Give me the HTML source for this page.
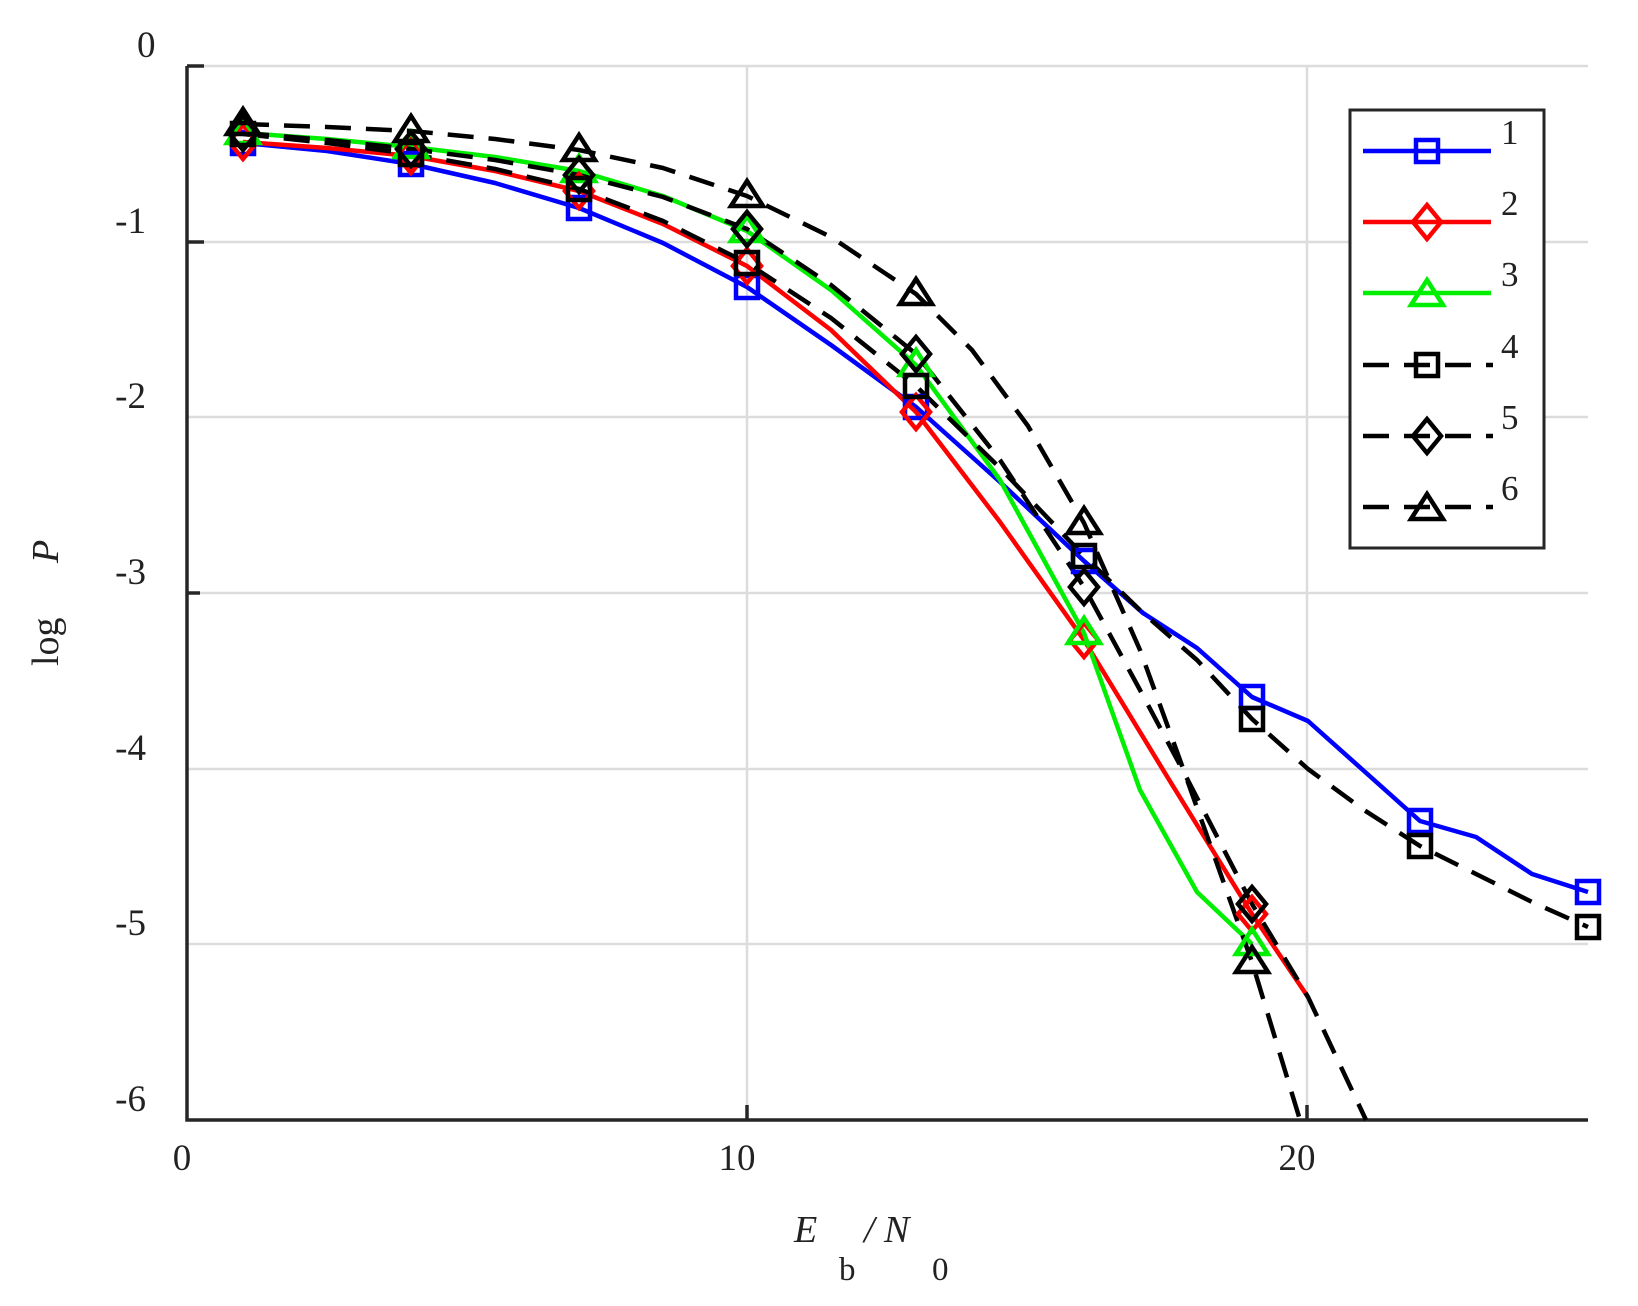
<!DOCTYPE html>
<html><head><meta charset="utf-8"><style>
html,body{margin:0;padding:0;background:#fff;}
svg{display:block;}
text{font-family:"Liberation Serif",serif;fill:#222;}
</style></head><body>
<svg width="1638" height="1306" viewBox="0 0 1638 1306" xmlns="http://www.w3.org/2000/svg">
<!-- grid -->
<g stroke="#dcdcdc" stroke-width="2.5">
<line x1="747" y1="66" x2="747" y2="1120"/>
<line x1="1307" y1="66" x2="1307" y2="1120"/>
<line x1="187" y1="66" x2="1588" y2="66"/>
<line x1="187" y1="242" x2="1588" y2="242"/>
<line x1="187" y1="417" x2="1588" y2="417"/>
<line x1="187" y1="593" x2="1588" y2="593"/>
<line x1="187" y1="769" x2="1588" y2="769"/>
<line x1="187" y1="944" x2="1588" y2="944"/>
</g>
<!-- axes -->
<g stroke="#262626" stroke-width="3.5" fill="none">
<polyline points="187,66 187,1120 1588,1120"/>
<line x1="187" y1="66" x2="204" y2="66"/>
<line x1="187" y1="242" x2="204" y2="242"/>
<line x1="187" y1="593" x2="200" y2="593"/>
<line x1="747" y1="1120" x2="747" y2="1105"/>
<line x1="1307" y1="1120" x2="1307" y2="1105"/>
</g>
<!-- tick labels -->
<g font-size="37">
<text x="137" y="57">0</text>
<text x="146" y="233" text-anchor="end">-1</text>
<text x="146" y="408" text-anchor="end">-2</text>
<text x="146" y="584" text-anchor="end">-3</text>
<text x="146" y="760" text-anchor="end">-4</text>
<text x="146" y="935" text-anchor="end">-5</text>
<text x="146" y="1111" text-anchor="end">-6</text>
<text x="182" y="1170" text-anchor="middle">0</text>
<text x="737" y="1170" text-anchor="middle">10</text>
<text x="1297" y="1170" text-anchor="middle">20</text>
</g>
<!-- axis titles -->
<g font-size="38">
<text transform="translate(58,666) rotate(-90)">log</text>
<text transform="translate(58,563) rotate(-90)" font-style="italic">P</text>
<text x="794" y="1242" font-style="italic">E</text>
<text x="864" y="1242" font-style="italic">/</text>
<text x="884" y="1242" font-style="italic">N</text>
<text x="839" y="1280" font-size="33">b</text>
<text x="932" y="1280" font-size="33">0</text>
</g>
<!-- series -->
<g fill="none" stroke-width="4.5" stroke-linejoin="round">
<polyline stroke="#0000ff" points="243,143 327,151 411,164 495,183 579,208 663,243 747,287 831,345 916,407 1000,482 1084,561 1143,613 1197,648 1252,697 1308,721 1364,771 1420,821 1476,837 1532,874 1588,892"/>
<polyline stroke="#ff0000" points="243,142 327,148 411,156 495,171 579,191 663,224 747,266 831,330 916,412 1000,522 1084,640 1168,778 1252,914 1308,997"/>
<polyline stroke="#00ee00" points="243,133 327,139 411,147 495,157 579,171 663,196 747,231 831,290 916,365 1000,480 1084,633 1140,790 1197,892 1252,944"/>
<g stroke="#000" stroke-dasharray="26,15">
<polyline points="243,134 327,143 411,154 495,169 579,189 663,221 747,263 831,318 916,386 1000,468 1084,556 1143,613 1197,660 1252,719 1308,769 1364,810 1420,846 1476,874 1532,902 1588,927"/>
<polyline points="243,133 327,140 411,149 495,160 579,175 663,197 747,229 831,285 916,354 1000,460 1084,587 1140,690 1180,765 1252,904 1308,997 1366,1120"/>
<polyline points="243,124 327,127 411,131 495,139 579,150 663,168 747,196 831,237 916,294 972,350 1028,426 1084,523 1140,650 1180,760 1252,962 1300,1120"/>
</g>
</g>
<!-- markers -->
<g fill="none" stroke-width="4.5">
<g stroke="#0000ff">
<rect x="232" y="132" width="22" height="22"/><rect x="400" y="153" width="22" height="22"/><rect x="568" y="197" width="22" height="22"/><rect x="736" y="276" width="22" height="22"/><rect x="905" y="396" width="22" height="22"/><rect x="1073" y="550" width="22" height="22"/><rect x="1241" y="686" width="22" height="22"/><rect x="1409" y="810" width="22" height="22"/><rect x="1577" y="881" width="22" height="22"/>
</g>
<g stroke="#ff0000">
<path d="M243,125 l14,17 l-14,17 l-14,-17z"/><path d="M411,139 l14,17 l-14,17 l-14,-17z"/><path d="M579,174 l14,17 l-14,17 l-14,-17z"/><path d="M747,249 l14,17 l-14,17 l-14,-17z"/><path d="M916,395 l14,17 l-14,17 l-14,-17z"/><path d="M1084,623 l14,17 l-14,17 l-14,-17z"/><path d="M1252,897 l14,17 l-14,17 l-14,-17z"/>
</g>
<g stroke="#00ee00">
<path d="M243,118 l16,25 h-32z"/><path d="M411,132 l16,25 h-32z"/><path d="M579,156 l16,25 h-32z"/><path d="M747,216 l16,25 h-32z"/><path d="M916,350 l16,25 h-32z"/><path d="M1084,618 l16,25 h-32z"/><path d="M1252,929 l16,25 h-32z"/>
</g>
<g stroke="#000">
<rect x="232" y="123" width="22" height="22"/><rect x="400" y="143" width="22" height="22"/><rect x="568" y="178" width="22" height="22"/><rect x="736" y="252" width="22" height="22"/><rect x="905" y="375" width="22" height="22"/><rect x="1073" y="545" width="22" height="22"/><rect x="1241" y="708" width="22" height="22"/><rect x="1409" y="835" width="22" height="22"/><rect x="1577" y="916" width="22" height="22"/>
<path d="M243,116 l14,17 l-14,17 l-14,-17z"/><path d="M411,132 l14,17 l-14,17 l-14,-17z"/><path d="M579,158 l14,17 l-14,17 l-14,-17z"/><path d="M747,212 l14,17 l-14,17 l-14,-17z"/><path d="M916,337 l14,17 l-14,17 l-14,-17z"/><path d="M1084,570 l14,17 l-14,17 l-14,-17z"/><path d="M1252,887 l14,17 l-14,17 l-14,-17z"/>
<path d="M243,109 l16,25 h-32z"/><path d="M411,116 l16,25 h-32z"/><path d="M579,135 l16,25 h-32z"/><path d="M747,181 l16,25 h-32z"/><path d="M916,279 l16,25 h-32z"/><path d="M1084,508 l16,25 h-32z"/><path d="M1252,947 l16,25 h-32z"/>
</g>
</g>
<!-- legend -->
<rect x="1350" y="110" width="194" height="438" fill="#fff" stroke="#262626" stroke-width="3"/>
<g fill="none" stroke-width="4.5">
<line x1="1363" y1="151" x2="1491" y2="151" stroke="#0000ff"/>
<rect x="1416" y="140" width="22" height="22" stroke="#0000ff"/>
<line x1="1363" y1="222" x2="1491" y2="222" stroke="#ff0000"/>
<path d="M1427,205 l14,17 l-14,17 l-14,-17z" stroke="#ff0000"/>
<line x1="1363" y1="293" x2="1491" y2="293" stroke="#00ee00"/>
<path d="M1427,280 l16,25 h-32z" stroke="#00ee00"/>
<g stroke="#000" stroke-dasharray="26,15">
<line x1="1363" y1="365" x2="1493" y2="365"/>
<line x1="1363" y1="436" x2="1493" y2="436"/>
<line x1="1363" y1="507" x2="1493" y2="507"/>
</g>
<g stroke="#000">
<rect x="1416" y="354" width="22" height="22"/>
<path d="M1427,419 l14,17 l-14,17 l-14,-17z"/>
<path d="M1427,494 l16,25 h-32z"/>
</g>
</g>
<g font-size="35">
<text x="1501" y="144">1</text>
<text x="1501" y="215">2</text>
<text x="1501" y="286">3</text>
<text x="1501" y="358">4</text>
<text x="1501" y="429">5</text>
<text x="1501" y="500">6</text>
</g>
</svg>
</body></html>
